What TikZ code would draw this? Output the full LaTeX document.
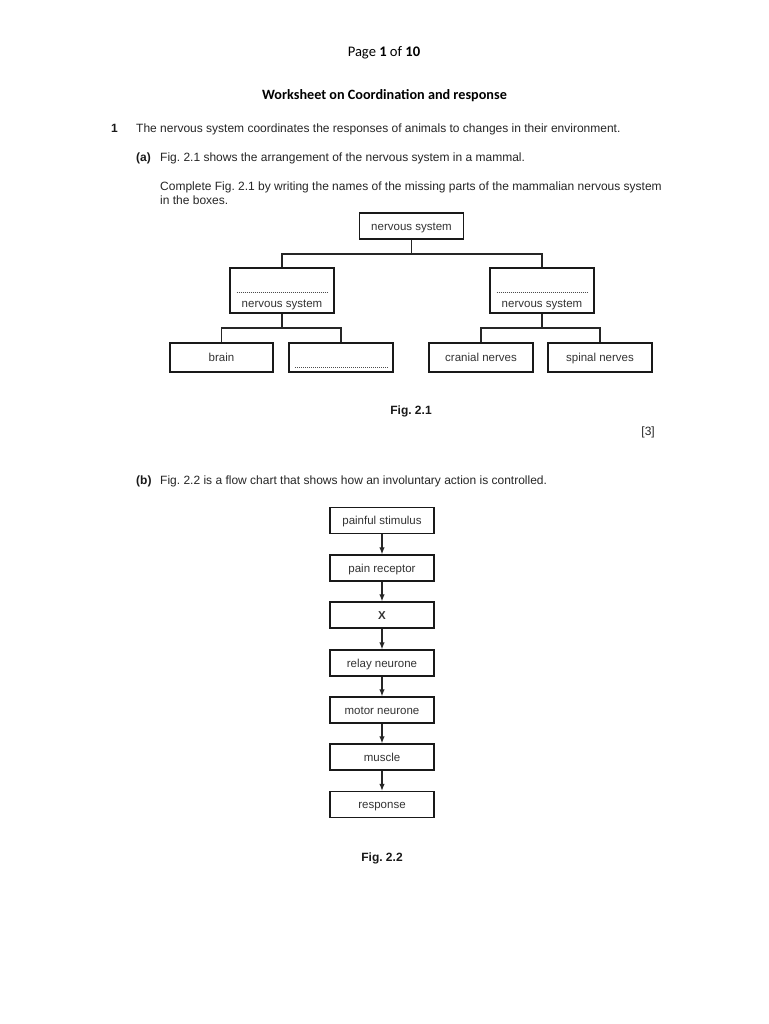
\documentclass[tikz,border=0pt]{standalone}
\usepackage{fontspec}
\setmainfont{Liberation Sans}
\newfontfamily\hdrfont{Carlito}
\usetikzlibrary{arrows.meta}
\frenchspacing
\begin{document}
\begin{tikzpicture}[x=1pt,y=-1pt,
  txt/.style={inner sep=0pt,font=\fontsize{12}{14}\selectfont,text=black!85},
  btxt/.style={inner sep=0pt,font=\bfseries\fontsize{12}{14}\selectfont,text=black!90},
  lbl/.style={inner sep=0pt,font=\fontsize{11.5}{13}\selectfont,text=black!80},
  boxa/.style={draw=black!90,line width=1.4pt,inner sep=0pt,text height=8.2pt,text depth=0pt},
  conn/.style={draw=black!85,line width=1.2pt},
  arr/.style={draw=black!85,line width=1.2pt,-{Latex[length=7pt,width=5.5pt]}},
  dots/.style={draw=black!70,line width=0.6pt,dash pattern=on 0.7pt off 1.3pt}
]
\useasboundingbox (0,0) rectangle (768,1024);
\fill[white] (0,0) rectangle (768,1024);
% header
\node[inner sep=0pt,anchor=base,font=\hdrfont\fontsize{14.6}{17}\selectfont] (pg) at (384,57) {Page \textbf{1} of \textbf{10}};
\node[inner sep=0pt,anchor=base,font=\hdrfont\bfseries\fontsize{14.2}{17}\selectfont] (ttl) at (384.5,100) {Worksheet on Coordination and response};
% question text
\node[btxt,anchor=base west] (q1) at (111,133) {1};
\node[txt,anchor=base west] (q1t) at (136,133) {The nervous system coordinates the responses of animals to changes in their environment.};
\node[btxt,anchor=base west] (qa) at (136,161.5) {(a)};
\node[txt,anchor=base west] (qat) at (160,161.5) {Fig. 2.1 shows the arrangement of the nervous system in a mammal.};
\node[txt,anchor=base west] (qa2) at (160,190.5) {Complete Fig. 2.1 by writing the names of the missing parts of the mammalian nervous system};
\node[txt,anchor=base west] (qa3) at (160,204.5) {in the boxes.};
% tree
\node[boxa,minimum width=104pt,minimum height=26pt,lbl] (ns) at (411.5,226) {nervous system};
\node[boxa,minimum width=104pt,minimum height=45pt] (cns) at (282,290.5) {};
\node[boxa,minimum width=104pt,minimum height=45pt] (pns) at (542,290.5) {};
\node[lbl,anchor=base] (cnsl) at (282,307) {nervous system};
\node[lbl,anchor=base] (pnsl) at (542,307) {nervous system};
\draw[dots] (236.5,292) -- (327.5,292);
\draw[dots] (496.5,292) -- (587.5,292);
\node[boxa,minimum width=103pt,minimum height=29pt,lbl] (brain) at (221.5,357.5) {brain};
\node[boxa,minimum width=104pt,minimum height=29pt] (blank) at (341,357.5) {};
\draw[dots] (295,367) -- (388,367);
\node[boxa,minimum width=104pt,minimum height=29pt,lbl] (cran) at (481,357.5) {cranial nerves};
\node[boxa,minimum width=104pt,minimum height=29pt,lbl] (spin) at (600,357.5) {spinal nerves};
\coordinate (j1) at (411.5,254);
\coordinate (j2) at (282,328);
\coordinate (j3) at (542,328);
\draw[conn] (ns.south) -- (j1);
\draw[conn] (j1) -| (cns.north);
\draw[conn] (j1) -| (pns.north);
\draw[conn] (cns.south) -- (j2);
\draw[conn] (j2) -| (brain.north);
\draw[conn] (j2) -| (blank.north);
\draw[conn] (pns.south) -- (j3);
\draw[conn] (j3) -| (cran.north);
\draw[conn] (j3) -| (spin.north);
\node[btxt,anchor=base] (f21) at (411,414) {Fig. 2.1};
\node[txt,anchor=base east] (m3) at (655,435) {[3]};
% part b
\node[btxt,anchor=base west] (qb) at (136,484) {(b)};
\node[txt,anchor=base west] (qbt) at (160,484) {Fig. 2.2 is a flow chart that shows how an involuntary action is controlled.};
% flow chart
\tikzset{fbox/.style={boxa,minimum width=104pt,minimum height=26pt,lbl}}
\node[fbox] (s1) at (382,520.5) {painful stimulus};
\node[fbox] (s2) at (382,568) {pain receptor};
\node[fbox] (s3) at (382,615) {\textbf{X}};
\node[fbox] (s4) at (382,663) {relay neurone};
\node[fbox] (s5) at (382,710) {motor neurone};
\node[fbox] (s6) at (382,757) {muscle};
\node[fbox] (s7) at (382,804.5) {response};
\draw[arr] (s1) -- (s2);
\draw[arr] (s2) -- (s3);
\draw[arr] (s3) -- (s4);
\draw[arr] (s4) -- (s5);
\draw[arr] (s5) -- (s6);
\draw[arr] (s6) -- (s7);
\node[btxt,anchor=base] (f22) at (382,861) {Fig. 2.2};
\end{tikzpicture}
\end{document}
